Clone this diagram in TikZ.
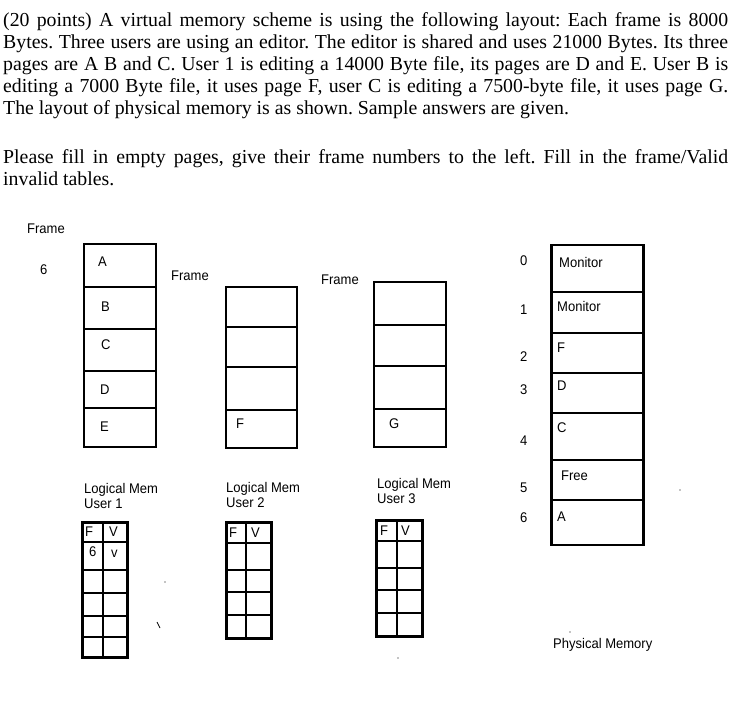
\documentclass[tikz,border=0pt]{standalone}
\usepackage{fontspec}
\setmainfont{Liberation Serif}
\newfontfamily\uifont[FakeStretch=0.93]{Liberation Sans}
\frenchspacing
\begin{document}
\begin{tikzpicture}[x=1pt,y=-1pt,
  qline/.style={anchor=base west, inner sep=0pt, font=\fontsize{19.8}{22}\selectfont},
  lab/.style={anchor=base west, inner sep=0pt, font=\uifont\fontsize{14}{15}\selectfont},
  gridline/.style={line width=1.1pt},
  heavyline/.style={line width=3pt},
  stray/.style={fill=black}]
\fill[white] (0,0) rectangle (752,716);
\useasboundingbox (0,0) rectangle (752,716);

% question text
\node[qline] (l1) at (3,26) {\makebox[725pt][s]{(20 points) A virtual memory scheme is using the following layout: Each frame is 8000}};
\node[qline] (l2) at (3,48) {\makebox[725pt][s]{Bytes. Three users are using an editor. The editor is shared and uses 21000 Bytes. Its three}};
\node[qline] (l3) at (3,70) {\makebox[725pt][s]{pages are A B and C. User 1 is editing a 14000 Byte file, its pages are D and E. User B is}};
\node[qline] (l4) at (3,92) {\makebox[725pt][s]{editing a 7000 Byte file, it uses page F, user C is editing a 7500-byte file, it uses page G.}};
\node[qline] (l5) at (3,114) {The layout of physical memory is as shown. Sample answers are given.};
\node[qline] (l6) at (3,163) {\makebox[725pt][s]{Please fill in empty pages, give their frame numbers to the left. Fill in the frame/Valid}};
\node[qline] (l7) at (3,185) {invalid tables.};

% frame headings
\node[lab] (fr1) at (27,233) {Frame};
\node[lab] (six) at (40,274) {6};
\node[lab] (fr2) at (171,280) {Frame};
\node[lab] (fr3) at (321,284) {Frame};

% user 1 logical pages
\draw[gridline] (84,244) rectangle (156,447);
\foreach \yy in {287,329,371,408} \draw[gridline] (84,\yy) -- (156,\yy);
\node[lab] (pa) at (98,266) {A};
\node[lab] (pb) at (101,311) {B};
\node[lab] (pc) at (101,349) {C};
\node[lab] (pd) at (100,394) {D};
\node[lab] (pe) at (100,431) {E};

% user 2 logical pages
\draw[gridline] (226,287) rectangle (297,448);
\foreach \yy in {327,367,410} \draw[gridline] (226,\yy) -- (297,\yy);
\node[lab] (pf) at (236,428) {F};

% user 3 logical pages
\draw[gridline] (374,282) rectangle (446,447);
\foreach \yy in {325,366,409} \draw[gridline] (374,\yy) -- (446,\yy);
\node[lab] (pg) at (389,428) {G};

% physical memory
\draw[gridline] (551,245) -- (643,245);
\foreach \yy in {292,333,373,413,460,500} \draw[gridline] (551,\yy) -- (643,\yy);
\draw[gridline] (551,545) -- (643,545);
\draw[heavyline] (551,244) -- (551,546);
\draw[heavyline] (643,244) -- (643,546);
\node[lab] (n0) at (520,265) {0};
\node[lab] (n1) at (520,314) {1};
\node[lab] (n2) at (520,361) {2};
\node[lab] (n3) at (520,394) {3};
\node[lab] (n4) at (520,445) {4};
\node[lab] (n5) at (520,492) {5};
\node[lab] (n6) at (520,522) {6};
\node[lab] (m0) at (559,267) {Monitor};
\node[lab] (m1) at (557,311) {Monitor};
\node[lab] (m2) at (557,352) {F};
\node[lab] (m3) at (557,390) {D};
\node[lab] (m4) at (557,432) {C};
\node[lab] (m5) at (561,480) {Free};
\node[lab] (m6) at (557,521) {A};
\node[lab] (pm) at (553,648) {Physical Memory};

% logical memory labels
\node[lab] (lm1) at (84,493) {Logical Mem};
\node[lab] (us1) at (84,508) {User 1};
\node[lab] (lm2) at (226,492) {Logical Mem};
\node[lab] (us2) at (226,507) {User 2};
\node[lab] (lm3) at (377,488) {Logical Mem};
\node[lab] (us3) at (377,503) {User 3};

% page tables
\draw[gridline] (103,522) -- (103,657);
\foreach \yy in {542,570,593,616,637} \draw[gridline] (82,\yy) -- (127,\yy);
\draw[heavyline] (82,522) rectangle (127,657);
\node[lab] (t1f) at (85,536) {F};
\node[lab] (t1v) at (109,536) {V};
\node[lab] (t1n) at (89,556) {6};
\node[lab] (t1w) at (111,557) {v};

\draw[gridline] (246,522) -- (246,638);
\foreach \yy in {543,570,592,615} \draw[gridline] (226,\yy) -- (271,\yy);
\draw[heavyline] (226,522) rectangle (271,638);
\node[lab] (t2f) at (229,537) {F};
\node[lab] (t2v) at (251,537) {V};

\draw[gridline] (397,520) -- (397,636);
\foreach \yy in {541,568,590,613} \draw[gridline] (376,\yy) -- (422,\yy);
\draw[heavyline] (376,520) rectangle (422,636);
\node[lab] (t3f) at (380,535) {F};
\node[lab] (t3v) at (401,535) {V};

% stray marks
\fill[stray] (165,582) circle (0.7);
\draw[line width=0.8pt] (157,622) -- (160,628);
\fill[stray] (398,658) circle (0.7);
\fill[stray] (680,490) circle (0.7);
\fill[stray] (570,632) circle (0.6);
\end{tikzpicture}
\end{document}
